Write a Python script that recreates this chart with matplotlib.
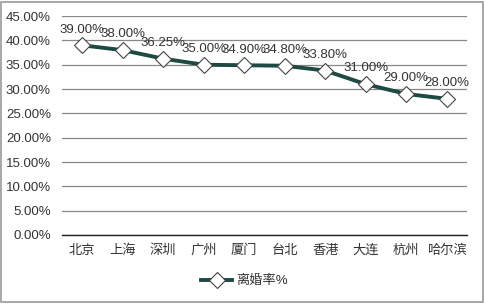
import matplotlib
matplotlib.use("Agg")
import matplotlib.pyplot as plt
from matplotlib.ticker import FuncFormatter, MultipleLocator
from matplotlib.patches import Rectangle

plt.rcParams['font.family'] = ['Liberation Sans', 'Noto Sans CJK SC', 'DejaVu Sans']

cities = ["北京", "上海", "深圳", "广州", "厦门", "台北", "香港", "大连", "杭州", "哈尔滨"]
rates = [39.00, 38.00, 36.25, 35.00, 34.90, 34.80, 33.80, 31.00, 29.00, 28.00]
series_name = "离婚率%"

fig = plt.figure(figsize=(4.84, 3.04), dpi=100)
ax = fig.add_axes([0.128, 0.227, 0.837, 0.72])

x = list(range(len(cities)))
ax.plot(x, rates, color="#1e4a43", lw=2.8, marker="D", markersize=8,
        markerfacecolor="white", markeredgecolor="#444444", markeredgewidth=0.8,
        label=series_name, zorder=3)
for xi, v in zip(x, rates):
    ax.annotate(f"{v:.2f}%", (xi, v), xytext=(0, 7), textcoords="offset points",
                ha="center", va="bottom", fontsize=9.5, color="#333333")

ax.set_xlim(-0.5, len(cities) - 0.5)
ax.set_ylim(0, 45)
ax.yaxis.set_major_locator(MultipleLocator(5))
ax.yaxis.set_major_formatter(FuncFormatter(lambda v, p: f"{v:.2f}%"))
ax.set_xticks(x)
ax.set_xticklabels(cities)
ax.tick_params(axis="both", length=0, labelsize=9.5, colors="#333333")
ax.tick_params(axis="x", pad=7)
ax.tick_params(axis="y", pad=8)
ax.grid(axis="y", color="#888888", lw=0.9)
ax.set_axisbelow(True)
for s in ["top", "right", "left"]:
    ax.spines[s].set_visible(False)
ax.spines["bottom"].set_color("#222222")
ax.spines["bottom"].set_linewidth(1.0)

leg = fig.legend(loc="center", bbox_to_anchor=(0.505, 0.075), frameon=False,
                 fontsize=9.5, handlelength=2.4, handletextpad=0.3, labelcolor="#333333")

fig.patches.append(Rectangle((0.003, 0.005), 0.994, 0.99, transform=fig.transFigure,
                             fill=False, edgecolor="#999999", lw=1.2))

fig.savefig("out.png", dpi=100, facecolor="white")
